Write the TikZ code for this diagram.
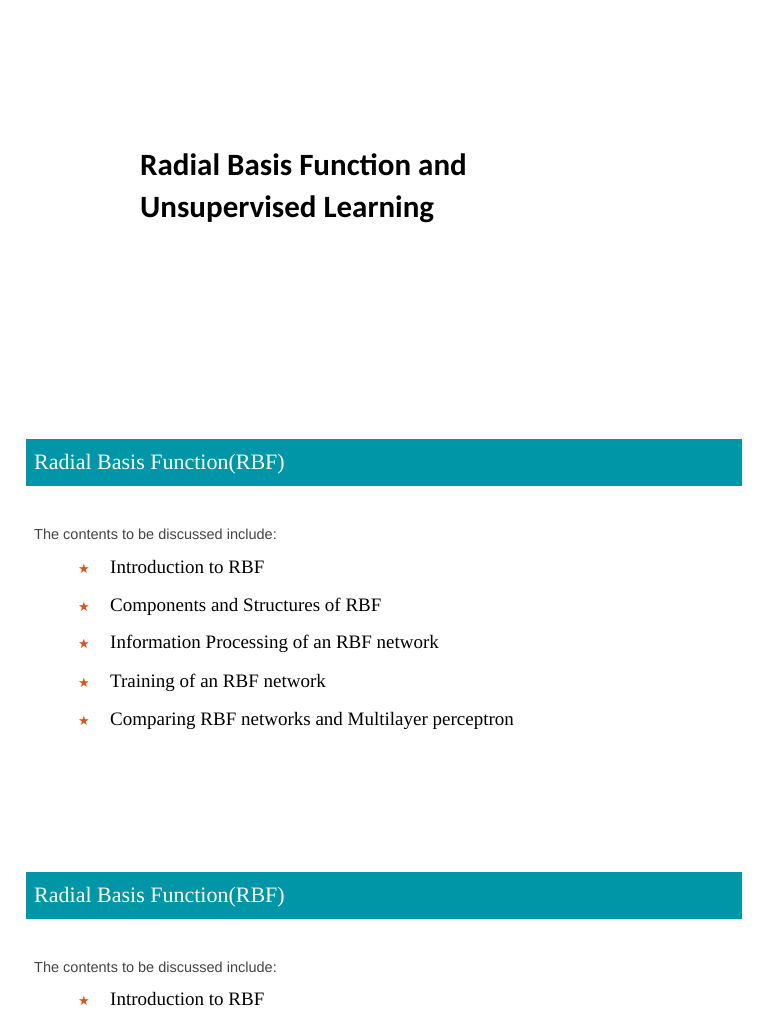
\documentclass[tikz,border=0pt]{standalone}
\usepackage{fontspec}
\setmainfont{Liberation Serif}
\newfontfamily\titlefont{Carlito}
\newfontfamily\lsans{Liberation Sans}
\newfontfamily\djv{DejaVu Sans}
\definecolor{teal1}{RGB}{0,150,167}
\definecolor{star1}{RGB}{217,84,30}
\definecolor{grey1}{RGB}{68,68,68}
\begin{document}
\begin{tikzpicture}[x=1pt,y=1pt,
  title/.style={anchor=base west,inner sep=0,font=\titlefont\bfseries\fontsize{31}{31}\selectfont},
  bartext/.style={anchor=base west,inner sep=0,text=white,font=\fontsize{22}{22}\selectfont},
  intro/.style={anchor=base west,inner sep=0,text=grey1,font=\lsans\fontsize{14.5}{14.5}\selectfont},
  item/.style={anchor=base west,inner sep=0,font=\fontsize{19}{19}\selectfont},
  staricon/.style={anchor=base,inner sep=0,text=star1,font=\djv\fontsize{13}{13}\selectfont}]
\useasboundingbox (0,0) rectangle (768,1024);
\fill[white] (0,0) rectangle (768,1024);
\node[title] (t1) at (140,848) {Radial Basis Function and};
\node[title] (t2) at (140,806) {Unsupervised Learning};
\fill[teal1] (26,538) rectangle (742,585);
\node[bartext] (b1) at (34,554) {Radial Basis Function(RBF)};
\node[intro] (c1) at (34,484) {The contents to be discussed include:};
\foreach \y/\t [count=\i] in {450/Introduction to RBF,412/Components and Structures of RBF,375/Information Processing of an RBF network,336/Training of an RBF network,298/Comparing RBF networks and Multilayer perceptron}{
  \node[staricon] (s\i) at (84,\y) {★};
  \node[item] (i\i) at (110,\y) {\t};
}
\fill[teal1] (26,105) rectangle (742,152);
\node[bartext] (b2) at (34,121) {Radial Basis Function(RBF)};
\node[intro] (c2) at (34,51) {The contents to be discussed include:};
\node[staricon] (s6) at (84,18) {★};
\node[item] (i6) at (110,18) {Introduction to RBF};
\end{tikzpicture}
\end{document}
